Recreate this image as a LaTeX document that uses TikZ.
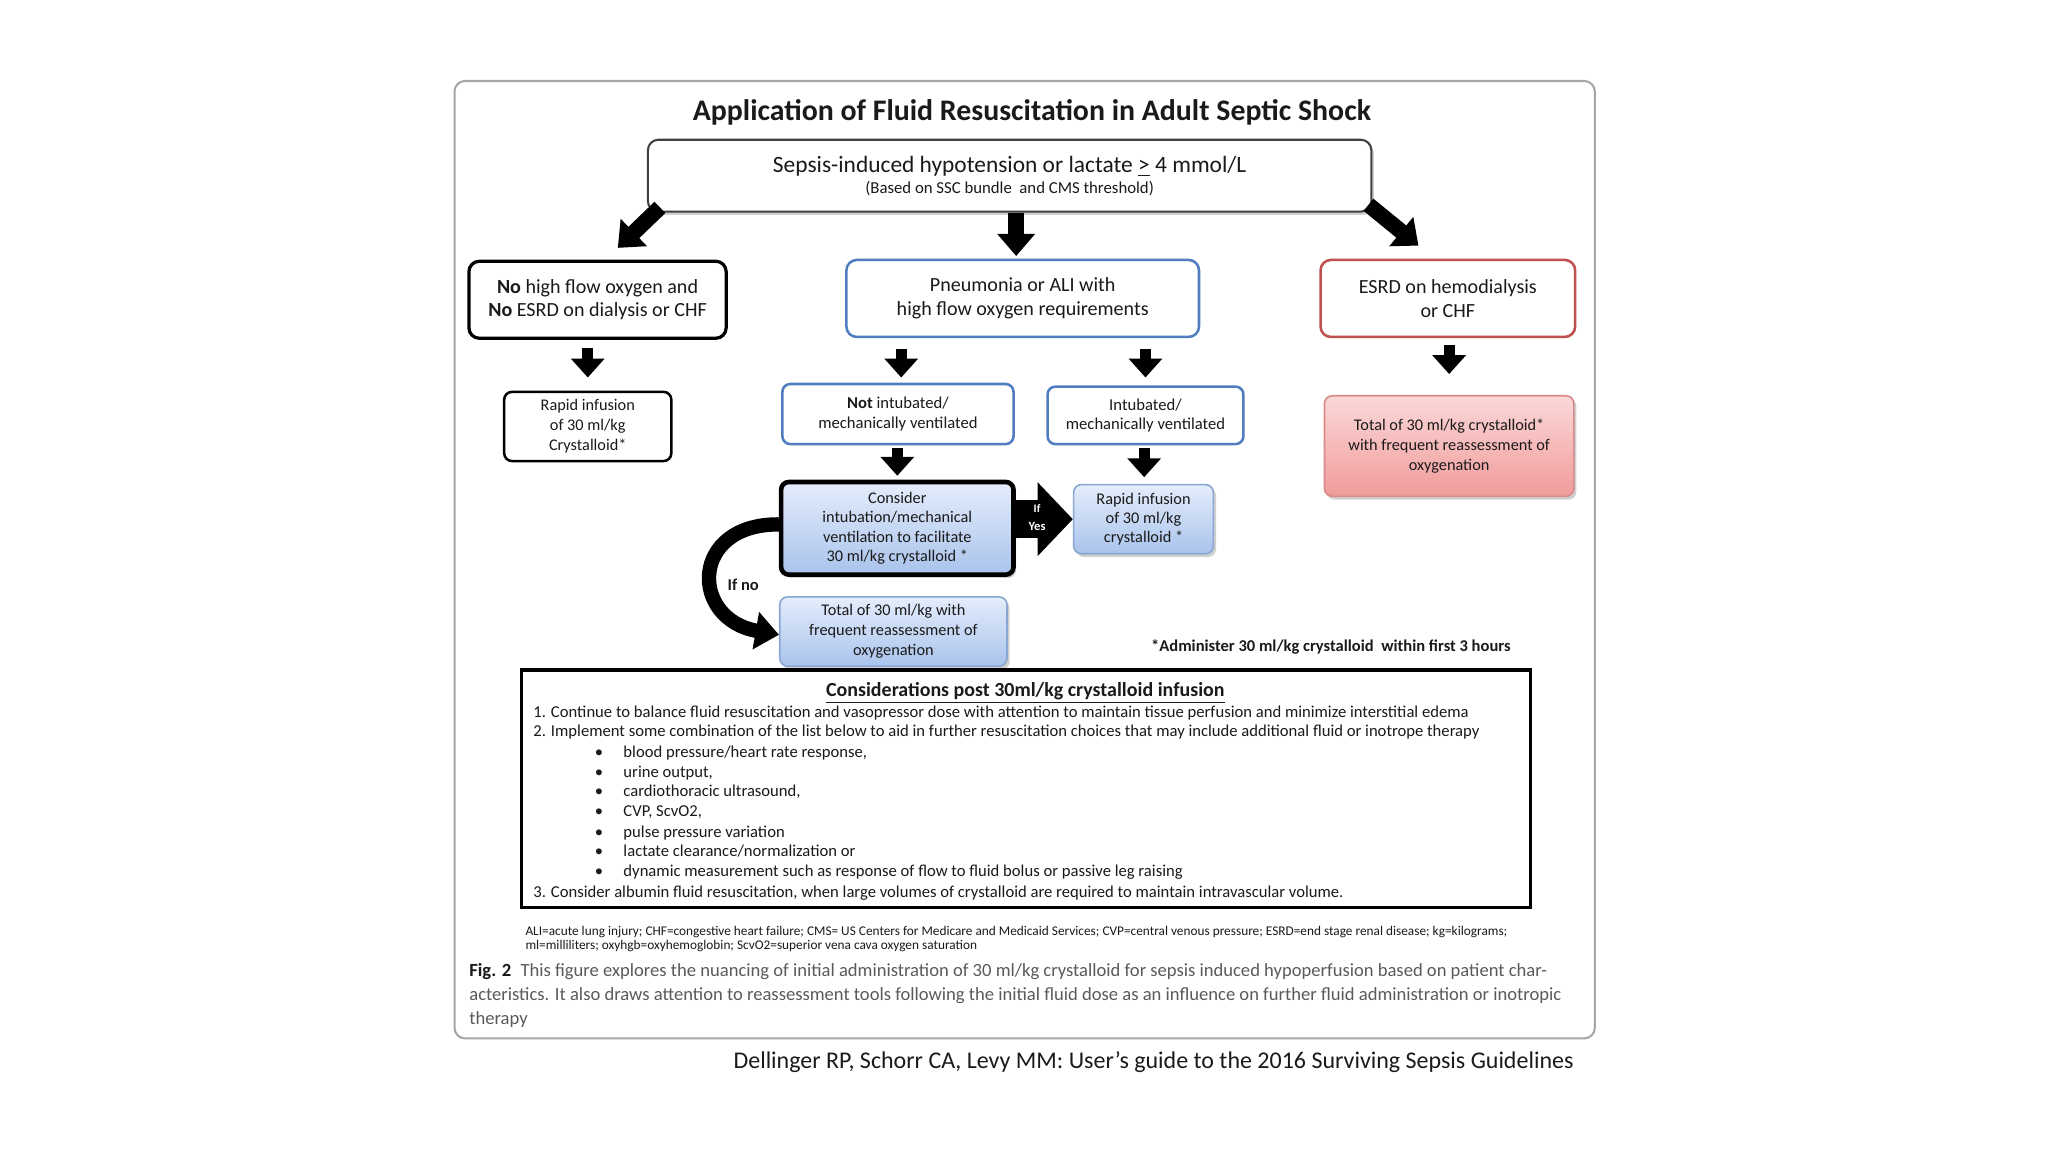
\documentclass[tikz,border=0pt]{standalone}
\usepackage{fontspec}
\setmainfont{Carlito}
\usetikzlibrary{arrows.meta,shadows,calc}
\definecolor{bluebd}{HTML}{4F7DC0}
\definecolor{redbd}{HTML}{C0504D}
\definecolor{lbtop}{HTML}{E4EDFB}
\definecolor{lbbot}{HTML}{A9C3EC}
\definecolor{lbbd}{HTML}{8AA6D2}
\definecolor{pktop}{HTML}{FBD8D8}
\definecolor{pkbot}{HTML}{F19B9B}
\definecolor{pkbd}{HTML}{D98A8A}
\definecolor{framegray}{HTML}{A6A6A6}
\definecolor{capgray}{HTML}{5A5A5A}
\definecolor{txt}{HTML}{1A1A1A}
\begin{document}
\begin{tikzpicture}[x=0.02cm, y=-0.02cm,
  every node/.style={text=txt},
  box/.style={rounded corners=0.16cm, inner sep=0pt, align=center, font=\fontsize{8.75}{10.2}\selectfont},
  sbox/.style={rounded corners=0.12cm, inner sep=0pt, align=center, font=\fontsize{7.1}{8.8}\selectfont},
  shad/.style={drop shadow={shadow xshift=0.04cm, shadow yshift=-0.05cm, opacity=0.3, fill=black!60}},
  bluefill/.style={top color=lbtop, bottom color=lbbot},
  blk/.style={draw=black, line width=0.17cm, -{Triangle[length=0.29cm, width=0.5cm]}},
  blkbig/.style={draw=black, line width=0.24cm, -{Triangle[length=0.34cm, width=0.56cm]}},
  ctext/.style={inner sep=0pt, anchor=base west, font=\fontsize{7.25}{8}\selectfont},
  captext/.style={inner sep=0pt, anchor=base west, text=capgray, font=\fontsize{8.1}{9.6}\selectfont},
]
\fill[white] (0,0) rectangle (1568,882);
\useasboundingbox (0,0) rectangle (1568,882);

% outer frame
\draw[framegray, line width=0.9pt, rounded corners=0.16cm] (348,62) rectangle (1221,795);

% title
\node[inner sep=0pt, anchor=base, font=\bfseries\fontsize{13}{15}\selectfont] (title) at (790,92)
  {Application of Fluid Resuscitation in Adult Septic Shock};

% top box
\node[box, draw=black!75, line width=0.9pt, fill=white, shad, minimum width=11.08cm, minimum height=1.1cm] (top) at (773,134.5) {};
\node[inner sep=0pt, anchor=base, font=\fontsize{10.2}{11}\selectfont] (topl1) at (773,132)
  {Sepsis-induced hypotension or lactate \underline{>} 4 mmol/L};
\node[inner sep=0pt, anchor=base, font=\fontsize{7.3}{8}\selectfont] (topl2) at (773,148)
  {(Based on SSC bundle\ \ and CMS threshold)};

% second row
\node[box, draw=black, line width=1.4pt, fill=white, minimum width=3.94cm, minimum height=1.18cm] (nohigh) at (457.5,229.5)
  {\textbf{No} high flow oxygen and\\\textbf{No} ESRD on dialysis or CHF};
\node[box, draw=bluebd, line width=1.1pt, fill=white, minimum width=5.4cm, minimum height=1.18cm] (pneu) at (783,228.5)
  {Pneumonia or ALI with\\high flow oxygen requirements};
\node[box, draw=redbd, line width=1.1pt, fill=white, minimum width=3.9cm, minimum height=1.18cm] (esrd) at (1108.5,228.5)
  {ESRD on hemodialysis\\or CHF};

% third row
\node[sbox, draw=black, line width=1.1pt, fill=white, minimum width=2.56cm, minimum height=1.06cm] (rapid1) at (450,326.5)
  {Rapid infusion\\of 30 ml/kg\\Crystalloid*};
\node[sbox, draw=bluebd, line width=1.1pt, fill=white, font=\fontsize{7.25}{8.5}\selectfont, minimum width=3.54cm, minimum height=0.92cm] (notint) at (687.5,317)
  {\textbf{Not} intubated/\\mechanically ventilated};
\node[sbox, draw=bluebd, line width=1.1pt, fill=white, font=\fontsize{7.25}{8.5}\selectfont, minimum width=3.0cm, minimum height=0.88cm] (intub) at (877,318)
  {Intubated/\\mechanically ventilated};
\node[sbox, draw=pkbd, line width=0.7pt, top color=pktop, bottom color=pkbot, shad, minimum width=3.82cm, minimum height=1.54cm] (pink) at (1109.5,341.5)
  {Total of 30 ml/kg crystalloid*\\with frequent reassessment of\\oxygenation};

% fourth row
\node[sbox, draw=black, line width=2pt, bluefill, shad, font=\fontsize{7.1}{8.5}\selectfont, minimum width=3.56cm, minimum height=1.42cm] (consider) at (687,404.5)
  {Consider\\intubation/mechanical\\ventilation to facilitate\\30 ml/kg crystalloid *};
\node[sbox, draw=lbbd, line width=0.7pt, bluefill, shad, font=\fontsize{7.1}{8.3}\selectfont, minimum width=2.14cm, minimum height=1.06cm] (rapid2) at (875.5,397.5)
  {Rapid infusion\\of 30 ml/kg\\crystalloid *};
\node[sbox, draw=lbbd, line width=0.7pt, bluefill, shad, minimum width=3.48cm, minimum height=1.06cm] (total) at (684,483.5)
  {Total of 30 ml/kg with\\frequent reassessment of\\oxygenation};

% arrows from top box
\draw[blkbig] ([shift={(0.2cm,0.08cm)}]top.south west) -- ([shift={(0.31cm,0.18cm)}]nohigh.north);
\draw[blkbig] ([xshift=0.1cm]top.south) -- ([xshift=0.1cm, yshift=0.04cm]top.south |- pneu.north);
\draw[blkbig] ([shift={(-0.06cm,0.12cm)}]top.south east) -- ([shift={(-0.45cm,0.2cm)}]esrd.north);

% down arrows
\draw[blk, shorten <=0.12cm, shorten >=0.2cm] (rapid1.north |- nohigh.south) -- (rapid1.north);
\draw[blk, shorten <=0.16cm, shorten >=0.08cm] ([xshift=0.05cm]notint.north |- pneu.south) -- ([xshift=0.05cm]notint.north);
\draw[blk, shorten <=0.16cm, shorten >=0.12cm] (intub.north |- pneu.south) -- (intub.north);
\draw[blk, shorten <=0.1cm, shorten >=0.32cm] (pink.north |- esrd.south) -- (pink.north);
\draw[blk, shorten <=0.04cm, shorten >=0.06cm] (consider.north |- notint.south) -- (consider.north);
\draw[blk, shorten <=0.04cm, shorten >=0.1cm] ([xshift=0.01cm]rapid2.north |- intub.south) -- ([xshift=0.01cm]rapid2.north);

% If yes arrow
\draw[draw=black, line width=0.58cm, -{Triangle[length=0.54cm, width=1.1cm]}] (consider.east |- rapid2.west) -- (rapid2.west);
\node[inner sep=0pt, text=white, font=\bfseries\fontsize{5}{6}\selectfont] (ifl) at (794,389) {If};
\node[inner sep=0pt, text=white, font=\bfseries\fontsize{5.5}{6}\selectfont] (yesl) at (794,403) {Yes};

% If no curved arrow
\draw[draw=black, line width=0.22cm, -{Triangle[length=0.36cm, width=0.56cm]}]
  ([yshift=0.06cm]consider.west) .. controls (528,401) and (528,474) .. ([yshift=-0.05cm]total.west);
\node[inner sep=0pt, anchor=base, font=\bfseries\fontsize{7.2}{8}\selectfont] (ifno) at (569,452) {If no};

% footnote
\node[inner sep=0pt, anchor=base west, font=\bfseries\fontsize{7.2}{8}\selectfont] (foot) at (881,499)
  {*Administer 30 ml/kg crystalloid\ \ within first 3 hours};

% considerations box
\node[draw=black, line width=1.4pt, fill=white, inner sep=0pt, minimum width=15.46cm, minimum height=3.64cm] (cons) at (785.5,604) {};
\node[inner sep=0pt, anchor=base, font=\bfseries\fontsize{8.7}{9}\selectfont] (ct) at (785,533)
  {\underline{Considerations post 30ml/kg crystalloid infusion}};
\node[ctext] (c1) at (408,549) {1. Continue to balance fluid resuscitation and vasopressor dose with attention to maintain tissue perfusion and minimize interstitial edema};
\node[ctext] (c2) at (408,564) {2. Implement some combination of the list below to aid in further resuscitation choices that may include additional fluid or inotrope therapy};
\node[ctext] (b1) at (455,580) {\textbullet};
\node[ctext] (t1) at (477,580) {blood pressure/heart rate response,};
\node[ctext] (b2) at (455,595) {\textbullet};
\node[ctext] (t2) at (477,595) {urine output,};
\node[ctext] (b3) at (455,610) {\textbullet};
\node[ctext] (t3) at (477,610) {cardiothoracic ultrasound,};
\node[ctext] (b4) at (455,625) {\textbullet};
\node[ctext] (t4) at (477,625) {CVP, ScvO2,};
\node[ctext] (b5) at (455,641) {\textbullet};
\node[ctext] (t5) at (477,641) {pulse pressure variation};
\node[ctext] (b6) at (455,656) {\textbullet};
\node[ctext] (t6) at (477,656) {lactate clearance/normalization or};
\node[ctext] (b7) at (455,671) {\textbullet};
\node[ctext] (t7) at (477,671) {dynamic measurement such as response of flow to fluid bolus or passive leg raising};
\node[ctext] (c3) at (408,687) {3. Consider albumin fluid resuscitation, when large volumes of crystalloid are required to maintain intravascular volume.};

% legend
\node[inner sep=0pt, anchor=base west, font=\fontsize{5.8}{6.5}\selectfont] (leg1) at (402,716)
  {ALI=acute lung injury; CHF=congestive heart failure; CMS= US Centers for Medicare and Medicaid Services; CVP=central venous pressure; ESRD=end stage renal disease; kg=kilograms;};
\node[inner sep=0pt, anchor=base west, font=\fontsize{5.8}{6.5}\selectfont] (leg2) at (402,727)
  {ml=milliliters; oxyhgb=oxyhemoglobin; ScvO2=superior vena cava oxygen saturation};

% caption
\node[captext] (cap1) at (359,748) {\textcolor{txt}{\bfseries Fig. 2}\enspace This figure explores the nuancing of initial administration of 30 ml/kg crystalloid for sepsis induced hypoperfusion based on patient char-};
\node[captext] (cap2) at (359,766) {acteristics. It also draws attention to reassessment tools following the initial fluid dose as an influence on further fluid administration or inotropic};
\node[captext] (cap3) at (359,784) {therapy};

% citation
\node[inner sep=0pt, anchor=base east, font=\fontsize{10.45}{12}\selectfont] (cite) at (1205,818)
  {Dellinger RP, Schorr CA, Levy MM: User’s guide to the 2016 Surviving Sepsis Guidelines};
\end{tikzpicture}
\end{document}
